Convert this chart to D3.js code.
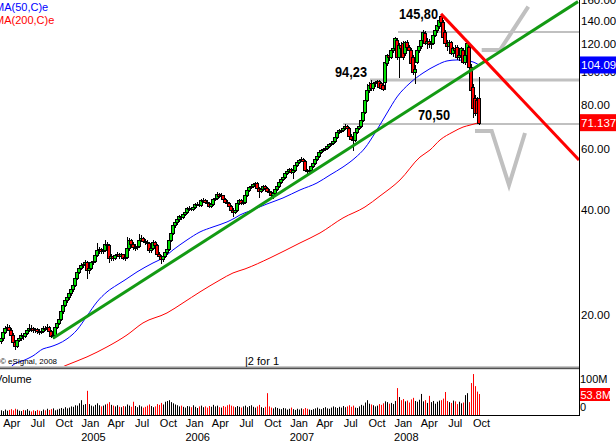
<!DOCTYPE html>
<html><head><meta charset="utf-8">
<script src="https://cdn.jsdelivr.net/npm/d3@7"></script>
<style>
html,body{margin:0;padding:0;background:#fff;overflow:hidden}
svg{display:block;font-family:"Liberation Sans",Arial,sans-serif}
</style></head><body>
<svg id="c" width="616" height="442"></svg>
<script>
// ---- data: weekly bars starting 2004-02-23 ----
const firstWeek = "2004-02-23";
const opens = [
16.9,17.2,17.9,18.4,18.5,18.1,17.5,16.7,16.3,17.0,
17.2,17.5,17.4,17.8,18.1,18.4,18.3,18.1,18.2,18.0,
17.9,18.0,18.4,18.3,18.5,18.0,17.4,17.5,18.5,19.0,
19.5,20.5,21.4,22.1,22.5,23.1,23.7,24.4,25.5,26.6,
27.3,27.8,28.0,28.4,26.9,27.3,28.4,28.6,29.7,30.7,
30.9,30.5,30.7,32.0,31.7,29.1,29.5,29.1,29.7,29.9,
29.5,29.9,29.1,29.3,31.1,32.8,32.0,31.3,31.4,31.5,
32.8,33.2,32.6,32.4,32.2,30.7,31.1,32.4,31.7,29.9,
29.5,28.9,29.5,30.3,30.9,32.8,34.4,36.2,36.9,37.7,
38.4,38.2,39.0,39.5,40.5,40.6,40.3,40.8,41.6,41.7,
41.3,42.7,42.8,42.2,41.9,41.1,41.6,43.0,43.3,44.5,
43.9,44.0,43.0,42.2,41.9,41.1,40.0,39.5,40.0,41.9,
42.6,42.0,42.2,44.2,45.6,46.5,46.8,47.5,47.8,46.2,
45.3,45.9,46.8,46.2,45.3,45.0,44.2,44.8,45.9,46.8,
48.1,49.1,49.7,51.0,51.7,52.4,51.4,52.0,53.8,54.9,
55.6,56.0,55.3,52.0,51.7,52.0,53.4,54.5,56.0,57.1,
58.6,59.4,59.8,60.2,61.0,61.8,62.2,63.1,64.7,66.9,
67.8,67.9,68.7,69.6,68.7,65.2,63.9,63.5,66.9,68.7,
69.6,72.4,76.3,82.6,88.3,92.4,89.4,92.4,93.0,93.6,
92.4,91.2,93.0,105.5,111.2,109.7,114.9,116.4,122.7,109.7,
118.8,120.3,112.7,121.1,117.2,114.9,109.7,99.4,106.2,114.9,
118.0,122.7,128.5,120.3,122.0,119.5,120.3,126.8,131.1,134.6,
143.9,138.3,129.4,120.3,118.0,121.1,112.7,116.4,117.2,109.7,
111.2,114.9,106.2,111.2,117.2,102.7,90.0,83.7,82.6,83.7];
const highs = [
17.5,18.1,18.6,18.8,18.7,18.3,17.7,17.0,17.2,17.5,
17.8,17.7,18.0,18.3,18.9,18.7,18.5,18.4,18.3,18.2,
18.2,18.6,18.6,18.8,18.6,18.1,17.7,18.6,19.2,19.7,
20.7,21.6,22.3,22.8,23.3,23.9,24.6,25.7,26.8,27.5,
28.1,28.3,28.8,28.6,27.6,28.6,28.9,29.9,32.2,31.3,
31.1,31.0,32.8,32.3,31.9,29.9,29.8,30.0,30.3,30.1,
30.2,30.0,29.6,33.5,33.3,33.0,32.3,31.9,32.0,34.2,
33.8,33.4,33.0,32.9,32.4,31.5,32.7,32.6,31.9,30.3,
29.8,29.8,30.6,31.2,33.1,34.7,36.5,37.3,38.0,38.7,
38.9,39.3,39.8,40.9,41.0,40.9,41.2,42.0,42.2,42.0,
43.1,43.3,43.0,42.6,42.1,41.9,43.4,43.8,45.0,44.8,
44.6,44.2,43.3,42.6,42.1,41.3,40.4,40.4,42.2,42.9,
42.9,42.5,44.5,45.9,46.8,47.2,47.8,48.2,48.0,46.5,
46.2,47.1,47.0,46.5,45.8,45.3,45.1,46.2,47.1,48.4,
49.4,50.0,51.3,52.0,52.8,52.6,52.3,54.1,55.2,55.9,
56.6,56.4,55.6,52.5,52.4,53.7,54.8,56.3,57.5,58.9,
59.8,60.2,60.6,61.4,62.2,62.6,63.5,65.1,67.4,68.3,
68.5,69.3,70.5,70.0,69.1,65.9,64.5,67.3,69.2,70.2,
72.9,76.9,83.0,92.0,93.0,94.0,93.0,93.8,94.23,94.0,
93.0,92.4,107.6,112.0,113.4,115.5,118.8,125.2,124.4,120.3,
121.1,121.8,121.8,122.7,118.8,116.4,111.2,104.1,115.5,118.8,
123.5,131.1,130.2,124.4,123.5,121.8,127.6,132.0,136.5,141.9,
145.8,140.0,131.5,122.7,122.7,122.0,117.2,118.8,118.8,113.4,
117.2,116.4,112.0,122.0,118.8,104.8,92.0,85.4,84.0,96.2];
const lows = [
16.6,17.0,17.7,18.1,17.9,17.3,16.5,16.0,16.2,16.8,
17.0,17.1,17.3,17.6,18.0,18.0,17.9,17.9,17.8,17.6,
17.7,17.9,18.1,18.2,17.9,17.3,17.14,17.4,18.3,18.8,
19.4,20.3,21.2,21.8,22.2,22.8,23.4,24.2,25.3,26.3,
27.0,27.4,27.7,25.5,26.4,27.1,28.0,28.4,29.5,30.2,
30.1,30.1,30.5,31.3,28.4,28.8,28.8,28.9,29.5,29.2,
29.3,28.9,28.7,29.1,30.8,31.8,31.0,30.8,31.0,31.3,
32.5,32.3,32.0,31.9,30.4,30.4,30.9,31.4,29.7,29.2,
28.2,28.6,29.3,30.0,30.7,32.5,34.2,35.8,36.5,37.3,
37.6,37.9,38.6,39.3,40.0,39.9,40.0,40.5,41.2,41.0,
41.1,42.3,41.9,41.6,40.8,40.9,41.4,42.6,43.1,43.6,
43.6,42.8,41.9,41.6,40.8,39.7,38.4,39.2,39.8,41.6,
41.7,41.6,42.0,43.9,45.2,46.1,46.4,47.1,46.0,43.6,
45.0,45.6,45.9,45.0,44.7,43.9,43.3,44.5,45.6,46.5,
47.8,48.7,49.4,50.6,51.3,51.0,49.4,51.8,53.4,54.5,
55.2,55.0,51.6,51.0,51.2,51.8,53.1,54.2,55.7,56.8,
58.2,59.0,59.3,59.8,60.6,61.2,61.8,62.8,64.3,66.4,
67.0,67.4,68.2,68.1,64.8,63.4,59.4,63.2,66.5,68.2,
69.3,72.0,75.8,82.0,87.0,88.3,88.5,90.6,91.2,89.4,
88.8,88.0,89.0,104.0,107.6,109.0,113.4,115.5,108.5,96.2,
114.9,108.5,111.2,115.5,112.7,104.8,98.0,92.4,105.5,113.4,
116.4,121.1,119.5,116.4,117.2,116.4,119.5,126.0,129.4,133.0,
137.4,124.0,119.5,114.9,116.4,112.0,110.4,113.4,108.5,107.6,
110.4,105.5,104.8,110.4,101.4,86.5,73.9,74.8,71.5,70.5];
const closes = [
17.2,17.9,18.4,18.5,18.1,17.5,16.7,16.3,17.0,17.2,
17.5,17.4,17.8,18.1,18.4,18.3,18.1,18.2,18.0,17.9,
18.0,18.4,18.3,18.5,18.0,17.4,17.5,18.5,19.0,19.5,
20.5,21.4,22.1,22.5,23.1,23.7,24.4,25.5,26.6,27.3,
27.8,28.0,28.4,26.9,27.3,28.4,28.6,29.7,30.7,30.9,
30.5,30.7,32.0,31.7,29.1,29.5,29.1,29.7,29.9,29.5,
29.9,29.1,29.3,31.1,32.8,32.0,31.3,31.4,31.5,32.8,
33.2,32.6,32.4,32.2,30.7,31.1,32.4,31.7,29.9,29.5,
28.9,29.5,30.3,30.9,32.8,34.4,36.2,36.9,37.7,38.4,
38.2,39.0,39.5,40.5,40.6,40.3,40.8,41.6,41.7,41.3,
42.7,42.8,42.2,41.9,41.1,41.6,43.0,43.3,44.5,43.9,
44.0,43.0,42.2,41.9,41.1,40.0,39.5,40.0,41.9,42.6,
42.0,42.2,44.2,45.6,46.5,46.8,47.5,47.8,46.2,45.3,
45.9,46.8,46.2,45.3,45.0,44.2,44.8,45.9,46.8,48.1,
49.1,49.7,51.0,51.7,52.4,51.4,52.0,53.8,54.9,55.6,
56.0,55.3,52.0,51.7,52.0,53.4,54.5,56.0,57.1,58.6,
59.4,59.8,60.2,61.0,61.8,62.2,63.1,64.7,66.9,67.8,
67.9,68.7,69.6,68.7,65.2,63.9,63.5,66.9,68.7,69.6,
72.4,76.3,82.6,88.3,91.2,89.4,92.4,93.0,93.6,90.0,
89.4,89.0,106.2,111.2,109.7,114.9,116.4,124.4,109.7,118.8,
116.4,109.7,121.1,117.2,114.9,105.5,99.4,101.4,114.9,118.0,
122.7,129.4,120.3,122.0,119.5,120.3,126.8,131.1,135.5,140.1,
138.3,125.2,120.3,118.0,121.1,112.7,116.4,114.9,109.7,111.2,
116.4,106.2,111.2,120.3,102.7,88.3,78.4,75.8,75.8,71.14];
const volumes = [ // millions
12,10,14,11,13,15,12,16,14,11,
10,13,12,15,11,9,12,10,13,11,
10,14,12,16,13,15,17,12,14,16,
18,16,20,17,19,22,21,25,24,30,
38,26,28,62,28,24,22,26,30,25,
22,24,27,29,33,26,24,22,25,21,
20,23,22,27,24,21,34,23,20,25,
22,19,21,24,27,23,20,22,28,26,
31,27,34,36,38,33,30,27,25,22,
24,21,19,23,22,20,25,21,18,22,
24,20,22,19,23,21,26,22,24,20,
19,23,21,25,27,24,22,20,23,21,
19,22,24,20,23,25,21,19,22,26,
20,18,21,56,22,19,17,20,18,16,
15,18,17,14,16,19,15,13,16,14,
17,15,18,16,14,13,15,17,19,16,
15,18,20,17,16,19,22,20,18,21,
19,23,20,22,25,21,24,19,18,22,
26,24,32,38,29,27,25,22,24,28,
26,30,35,33,29,31,28,36,69,46,
38,41,35,37,32,40,44,36,34,39,
54,35,38,31,49,33,36,29,34,37,
38,42,59,36,33,31,37,35,28,34,
30,32,51,56,33,82,105,74,60,53.8];
// moving averages: [week index, value]
const ma50 = [[4,14.0],[6,14.38],[12,14.87],[16,15.27],[21,15.99],[24.5,16.2],[28.5,16.52],[33,17.08],[38,18.12],[43,19.87],[48,21.8],[53,23.29],[58,24.38],[62,25.2],[68,26.57],[76,28.19],[81,29.14],[86,30.72],[93,32.81],[99.5,34.59],[106,35.75],[113,36.95],[117,37.94],[119.5,38.7],[124.5,39.74],[133,41.6],[141,43.29],[149.5,45.63],[158,47.79],[164.5,50.37],[171,53.1],[177,56.36],[182,60.2],[187,66.45],[193,75.8],[198,84.3],[204.5,92.4],[211,98.7],[218,104.1],[223,106.9],[228,107.6],[233,106.9],[236,106.2],[239,104.092]];
const ma200 = [[29.5,14.1],[33,14.38],[43,15.17],[53,16.2],[63,17.53],[71,18.98],[83,20.27],[91,21.66],[99.5,23.29],[109.5,25.2],[116,26.39],[122,27.1],[134.5,29.14],[149.5,32.17],[159.5,34.36],[171,37.94],[182,40.79],[189.5,43.86],[199.5,48.74],[209.5,56.7],[214.5,59.4],[219.5,63.45],[226,66.9],[231,69.1],[234.5,70.0],[239,71.1378]];
const lastMA50 = 104.092, lastMA200 = 71.1378, lastVolume = 53.8;
const priceTicks = [20,40,60,80,100,120,140,160];
const greenTrend = [[26,17.16],[288.5,158.1]];
const redTrend = [[220,145.8],[289,55.6]];
const levels = [[198.5,129.4,2],[184.5,94.23,3],[171,70.5,2]]; // start week, price, width
const arrowUp = [[240.35,114.9],[249.5,114.9],[263.65,152.9]];
const arrowDown = [[237,67.35],[245.35,67.35],[254,47.15],[262,66.45]];
const notes = [["145,80",220,145.8],["94,23",184,94.23],["70,50",239,70.5]];

// ---- scales ----
const svg = d3.select("#c");
const t0 = new Date(Date.UTC(2004,1,23));
const dayMs = 864e5;
const dates = opens.map((d,i)=>new Date(t0.getTime()+7*i*dayMs));
const x = d3.scaleUtc().domain([t0, dates[dates.length-1]]).range([1,479]);
const xw = w => x(new Date(t0.getTime()+7*w*dayMs));
const y = d3.scaleLog().domain([14.19,159.8]).range([367,0]);
const yv = d3.scaleLinear().domain([0,100]).range([415,376]);

svg.append("defs").append("clipPath").attr("id","cp").append("rect")
  .attr("x",0).attr("y",0).attr("width",579).attr("height",366);

const gP = svg.append("g").attr("clip-path","url(#cp)");
// horizontal levels
levels.forEach(([w,p,sw])=>{
  gP.append("line").attr("x1",xw(w)).attr("x2",579).attr("y1",y(p)).attr("y2",y(p))
    .attr("stroke","#c0c0c0").attr("stroke-width",sw);
});
const line = d3.line().x(d=>xw(d[0])).y(d=>y(d[1]));
[arrowUp,arrowDown].forEach(a=>gP.append("path").attr("d",line(a)).attr("fill","none")
  .attr("stroke","#c0c0c0").attr("stroke-width",4).attr("stroke-linejoin","miter"));
// moving averages
const lineC = d3.line().x(d=>xw(d[0])).y(d=>y(d[1])).curve(d3.curveMonotoneX);
gP.append("path").attr("d",lineC(ma200)).attr("fill","none").attr("stroke","#ff0000").attr("stroke-width",1);
gP.append("path").attr("d",lineC(ma50)).attr("fill","none").attr("stroke","#0000ff").attr("stroke-width",1);
// candles
opens.forEach((o,i)=>{
  const cx = Math.round(x(dates[i]));
  const c = closes[i], up = c>=o;
  gP.append("line").attr("x1",cx+0.5).attr("x2",cx+0.5)
    .attr("y1",Math.round(y(highs[i]))).attr("y2",Math.round(y(lows[i]))+1)
    .attr("stroke","#000").attr("stroke-width",1);
  const yt = Math.round(y(Math.max(o,c))), yb = Math.round(y(Math.min(o,c)));
  gP.append("rect").attr("x",cx-1.5).attr("y",yt+0.5).attr("width",3).attr("height",Math.max(1,yb-yt))
    .attr("fill",up?"#00e000":"#ff0000").attr("stroke","#000").attr("stroke-width",1)
    .attr("shape-rendering","crispEdges");
});
// trend lines
gP.append("path").attr("d",line(greenTrend)).attr("stroke","#139a13").attr("stroke-width",3).attr("fill","none");
gP.append("path").attr("d",line(redTrend)).attr("stroke","#ff0000").attr("stroke-width",3).attr("fill","none");
// notes
const noteDx = {"145,80":-42,"94,23":-34,"70,50":-61};
const noteDy = {"145,80":5,"94,23":-3,"70,50":-4};
notes.forEach(([t,w,p])=>{
  svg.append("text").attr("x",xw(w)+noteDx[t]).attr("y",y(p)+noteDy[t])
    .attr("font-size",14).attr("font-weight","bold").attr("fill","#000")
    .attr("textLength",t.length===6?39:32).attr("lengthAdjust","spacingAndGlyphs").text(t);
});

// separators and axes
svg.append("rect").attr("x",0).attr("y",366).attr("width",579).attr("height",1.5).attr("fill","#c8c8c8");
svg.append("rect").attr("x",0).attr("y",367.5).attr("width",579).attr("height",1.7).attr("fill","#505050");
svg.append("line").attr("x1",0).attr("x2",580).attr("y1",415.5).attr("y2",415.5).attr("stroke","#000");
svg.append("line").attr("x1",579.5).attr("x2",579.5).attr("y1",0).attr("y2",416).attr("stroke","#000");

// right axis labels
priceTicks.forEach(v=>{
  svg.append("text").attr("x",581).attr("y",y(v)+4.5).attr("font-size",11.5).attr("fill","#000")
    .text(d3.format(".2f")(v));
});
[[lastMA50,"#0000ff"],[lastMA200,"#ff0000"]].forEach(([v,col])=>{
  const yy = y(v);
  svg.append("rect").attr("x",580).attr("y",yy-8.5).attr("width",40).attr("height",17).attr("fill",col);
  svg.append("text").attr("x",581).attr("y",yy+4.5).attr("font-size",11.5).attr("fill","#fff").text(String(v));
});

// volume bars
volumes.forEach((v,i)=>{
  const cx = Math.round(x(dates[i]))+0.5;
  svg.append("line").attr("x1",cx).attr("x2",cx).attr("y1",415).attr("y2",yv(v))
    .attr("stroke",closes[i]<opens[i]?"#ff0000":"#000").attr("stroke-width",1);
});
svg.append("text").attr("x",580).attr("y",383).attr("font-size",11).text("100M");
svg.append("text").attr("x",580).attr("y",411).attr("font-size",11).text("0");
svg.append("rect").attr("x",580).attr("y",388).attr("width",30).attr("height",13).attr("fill","#ff0000");
svg.append("text").attr("x",580.5).attr("y",398.5).attr("font-size",11).attr("fill","#fff").text(lastVolume+"M");

// legends / captions
svg.append("text").attr("x",-5).attr("y",11).attr("font-size",11).attr("fill","#0000ff").text("MA(50,C)e");
svg.append("text").attr("x",-5).attr("y",24).attr("font-size",11).attr("fill","#ff0000").text("MA(200,C)e");
svg.append("text").attr("x",0).attr("y",364).attr("font-size",8).attr("fill","#000").text("\u00a9 eSignal, 2008");
svg.append("text").attr("x",245).attr("y",365).attr("font-size",11).attr("fill","#000").text("|2 for 1");
svg.append("text").attr("x",-5).attr("y",383).attr("font-size",11).attr("fill","#000").text("Volume");

// time axis labels
const months = d3.utcMonths(new Date(Date.UTC(2004,2,1)), new Date(Date.UTC(2008,10,1)))
  .filter(d=>d.getUTCMonth()%3===0);
months.forEach(d=>{
  svg.append("text").attr("x",x(d)).attr("y",427).attr("text-anchor","middle").attr("font-size",11)
    .text(d3.utcFormat("%b")(d));
});
[2005,2006,2007,2008].forEach(yr=>{
  svg.append("text").attr("x",x(new Date(Date.UTC(yr,0,1)))+3).attr("y",441).attr("text-anchor","middle")
    .attr("font-size",11).text(yr);
});
</script>
</body></html>
